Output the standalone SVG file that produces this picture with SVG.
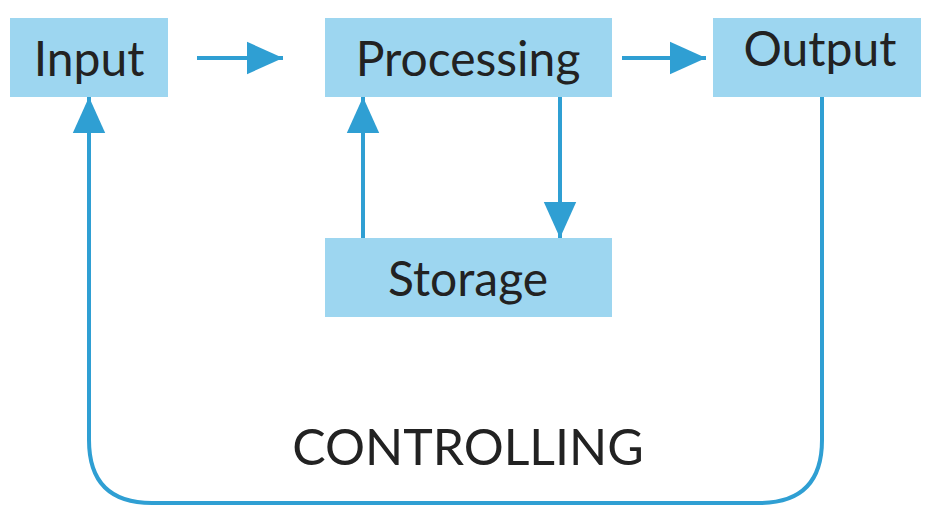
<svg xmlns="http://www.w3.org/2000/svg" width="932" height="516" viewBox="0 0 932 516">
<style>
.box{fill:#9dd6f0}
.t{font-family:"Lato","Liberation Sans",sans-serif;font-size:48px;fill:#222;text-anchor:middle}
.c{stroke:#2f9fd3;stroke-width:4;fill:none}
</style>
<defs><marker id="a" viewBox="0 0 10 10" refX="10" refY="5" markerWidth="9" markerHeight="9" markerUnits="userSpaceOnUse" orient="auto"><path d="M0,0L10,5L0,10Z" fill="#2f9fd3"/></marker>
<marker id="b" viewBox="0 0 10 10" refX="10" refY="5" markerWidth="36" markerHeight="36" markerUnits="userSpaceOnUse" orient="auto"><path d="M0,0.5L10,5L0,9.5Z" fill="#2f9fd3"/></marker></defs>
<rect width="932" height="516" fill="#fff"/>
<g id="input"><rect class="box" x="10" y="18" width="158" height="79"/><text class="t" x="89" y="76">Input</text></g>
<g id="processing"><rect class="box" x="325" y="18" width="287" height="79"/><text class="t" x="468" y="76">Processing</text></g>
<g id="output"><rect class="box" x="713" y="18" width="208" height="79"/><text class="t" x="820" y="66">Output</text></g>
<g id="storage"><rect class="box" x="325" y="238" width="287" height="79"/><text class="t" x="468" y="296">Storage</text></g>
<g id="connectors">
<path class="c" d="M197,58H283" marker-end="url(#b)"/>
<path class="c" d="M622,58H706" marker-end="url(#b)"/>
<path class="c" d="M560,97V238" marker-end="url(#b)"/>
<path class="c" d="M363,238V97" marker-end="url(#b)"/>
<path class="c" d="M822,97V440Q822,503 759,503H152Q89,503 89,440V97" marker-end="url(#b)"/>
</g>
<text class="t" x="468" y="465" style="font-size:50px">CONTROLLING</text>
</svg>
